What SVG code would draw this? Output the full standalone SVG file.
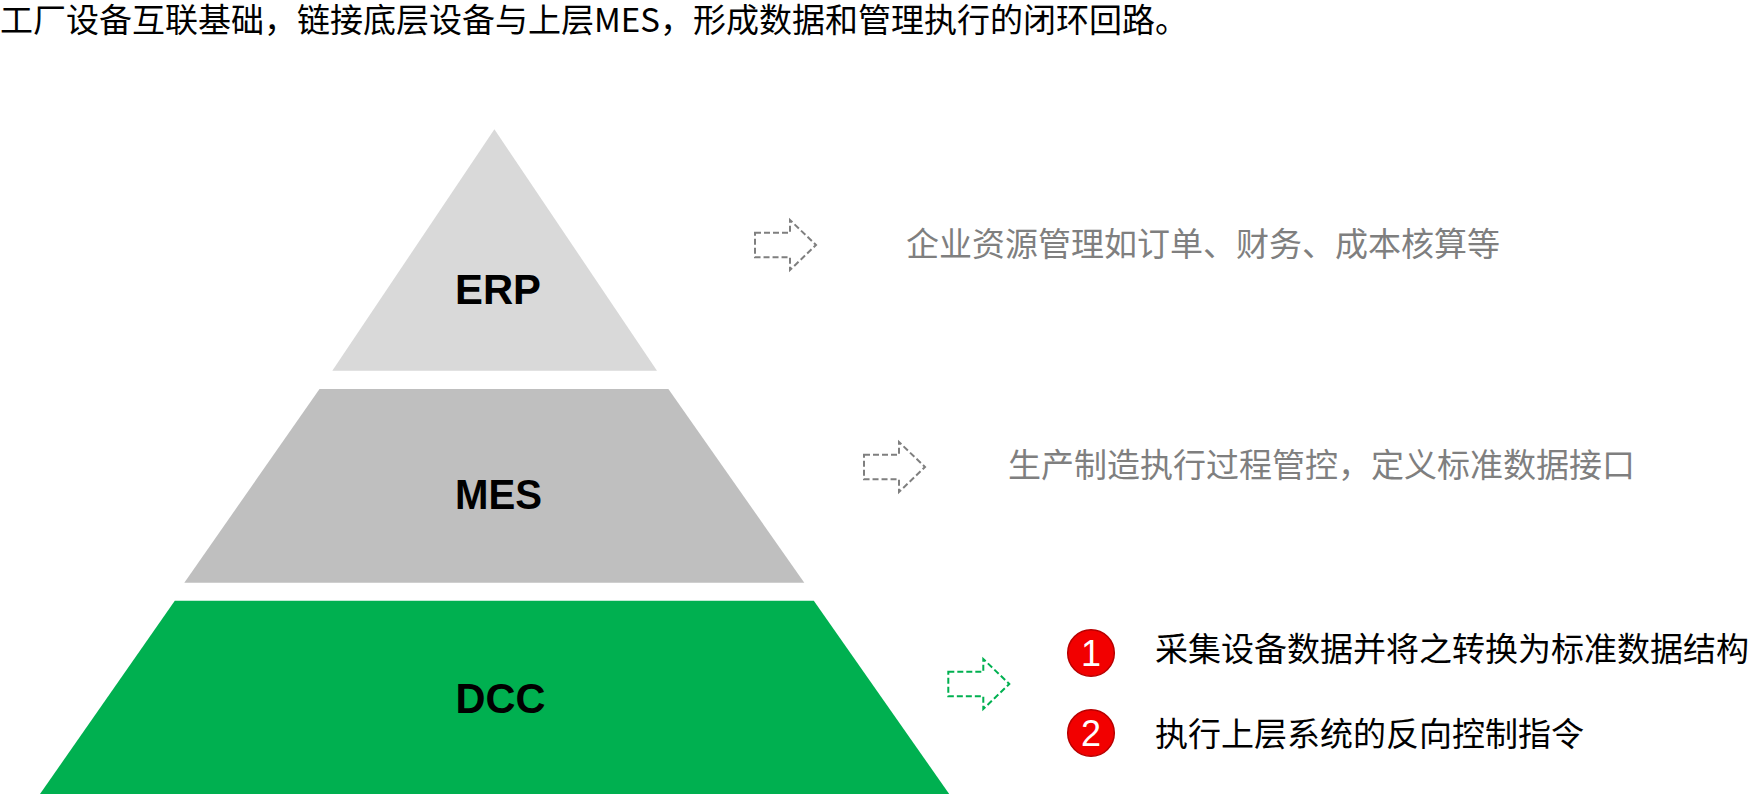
<svg xmlns="http://www.w3.org/2000/svg" width="1749" height="794" viewBox="0 0 1749 794">
<style>
.title{font-family:"Noto Sans CJK SC","Noto Sans",sans-serif;font-size:33px;fill:#000}
.lvl{font-family:"Liberation Sans",Arial,sans-serif;font-weight:bold;font-size:43px;fill:#000;text-anchor:middle}
.desc{font-family:"Noto Sans CJK SC","Noto Sans",sans-serif;font-size:33px;fill:#7f7f7f}
.item{font-family:"Noto Sans CJK SC","Noto Sans",sans-serif;font-size:33px;fill:#000}
.num{font-family:"Liberation Sans",Arial,sans-serif;font-size:36px;fill:#fff;text-anchor:middle}
.badge{fill:#f20000;stroke:#b80000;stroke-width:1.5}
.arr{fill:none;stroke-width:2;stroke-dasharray:6 3;stroke-linejoin:miter}
</style>
<defs>
<polygon id="arrow" points="0,12.7 35,12.7 35,0 61,25 35,50 35,37.3 0,37.3"/>
</defs>
<rect width="1749" height="794" fill="#fff"/>
<text class="title" x="0" y="32">工厂设备互联基础，链接底层设备与上层MES，形成数据和管理执行的闭环回路。</text>
<g id="erp">
<polygon points="494.4,129.3 657,370.7 332.3,370.7" fill="#d9d9d9"/>
<text class="lvl" x="498" y="304" textLength="86" lengthAdjust="spacingAndGlyphs">ERP</text>
</g>
<g id="mes">
<polygon points="319.5,389 668.4,389 804.3,582.7 184.3,582.7" fill="#bfbfbf"/>
<text class="lvl" x="498.5" y="509" textLength="87" lengthAdjust="spacingAndGlyphs">MES</text>
</g>
<g id="dcc">
<polygon points="174.8,600.7 813.8,600.7 949.2,794 40,794" fill="#00b050"/>
<text class="lvl" x="500.5" y="712.5" textLength="90" lengthAdjust="spacingAndGlyphs">DCC</text>
</g>
<g id="connectors">
<use href="#arrow" x="755" y="220" class="arr" stroke="#7f7f7f"/>
<use href="#arrow" x="864" y="442" class="arr" stroke="#7f7f7f"/>
<use href="#arrow" x="948.3" y="659" class="arr" stroke="#00b050"/>
</g>
<g id="erp-desc">
<text class="desc" x="906" y="256">企业资源管理如订单、财务、成本核算等</text>
</g>
<g id="mes-desc">
<text class="desc" x="1008" y="477">生产制造执行过程管控，定义标准数据接口</text>
</g>
<g id="dcc-item1">
<circle class="badge" cx="1091" cy="653" r="23.3"/>
<text class="num" x="1091" y="666">1</text>
<text class="item" x="1155" y="661">采集设备数据并将之转换为标准数据结构</text>
</g>
<g id="dcc-item2">
<circle class="badge" cx="1091" cy="733" r="23.3"/>
<text class="num" x="1091" y="746">2</text>
<text class="item" x="1155" y="746">执行上层系统的反向控制指令</text>
</g>
</svg>
